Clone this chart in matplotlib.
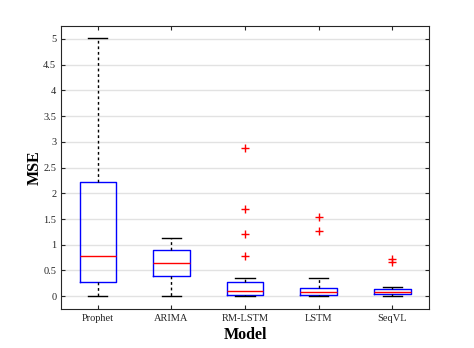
import matplotlib
matplotlib.use("Agg")
import matplotlib.pyplot as plt

plt.rcParams['font.family'] = ['Liberation Serif', 'DejaVu Serif']

# box statistics per model
models = ['Prophet', 'ARIMA', 'RM-LSTM', 'LSTM', 'SeqVL']
whislo = [0.0, 0.0, 0.0, 0.0, 0.0]
q1 = [0.27, 0.39, 0.03, 0.02, 0.04]
med = [0.78, 0.64, 0.11, 0.085, 0.09]
q3 = [2.21, 0.90, 0.27, 0.155, 0.135]
whishi = [5.02, 1.14, 0.35, 0.35, 0.18]
fliers = [[], [], [2.88, 1.70, 1.21, 0.78], [1.54, 1.26], [0.73, 0.66]]

stats = []
for i, name in enumerate(models):
    stats.append(dict(label=name, whislo=whislo[i], q1=q1[i], med=med[i],
                      q3=q3[i], whishi=whishi[i], fliers=fliers[i]))

fig = plt.figure(figsize=(4.74, 3.48), dpi=100)
ax = fig.add_axes([0.129, 0.112, 0.776, 0.813])

ax.yaxis.grid(True, color='#e2e2e2', linewidth=1.0)
ax.set_axisbelow(True)

ax.bxp(stats, positions=range(1, 6), widths=0.5, showfliers=True,
       boxprops=dict(color='blue', linewidth=1.0),
       medianprops=dict(color='red', linewidth=1.0),
       whiskerprops=dict(color='black', linestyle=(0, (2, 2)), linewidth=1.0),
       capprops=dict(color='black', linewidth=1.0),
       capwidths=0.26,
       flierprops=dict(marker='+', markeredgecolor='red', markersize=6,
                       linestyle='none', markeredgewidth=1.0))

ax.set_xlim(0.5, 5.5)
ax.set_ylim(-0.25, 5.25)
ax.set_yticks([0, 0.5, 1, 1.5, 2, 2.5, 3, 3.5, 4, 4.5, 5])
ax.set_yticklabels(['0', '0.5', '1', '1.5', '2', '2.5', '3', '3.5', '4', '4.5', '5'])
ax.tick_params(direction='in', top=True, right=True, labelsize=7.5,
               colors='#262626', length=3, width=0.8)
for sp in ax.spines.values():
    sp.set_color('#262626')
    sp.set_linewidth(0.8)

ax.set_xlabel('Model', fontsize=11.5, fontweight='bold', labelpad=3)
ax.set_ylabel('MSE', fontsize=11.5, fontweight='bold', labelpad=0)

fig.savefig('out.png', dpi=100)
